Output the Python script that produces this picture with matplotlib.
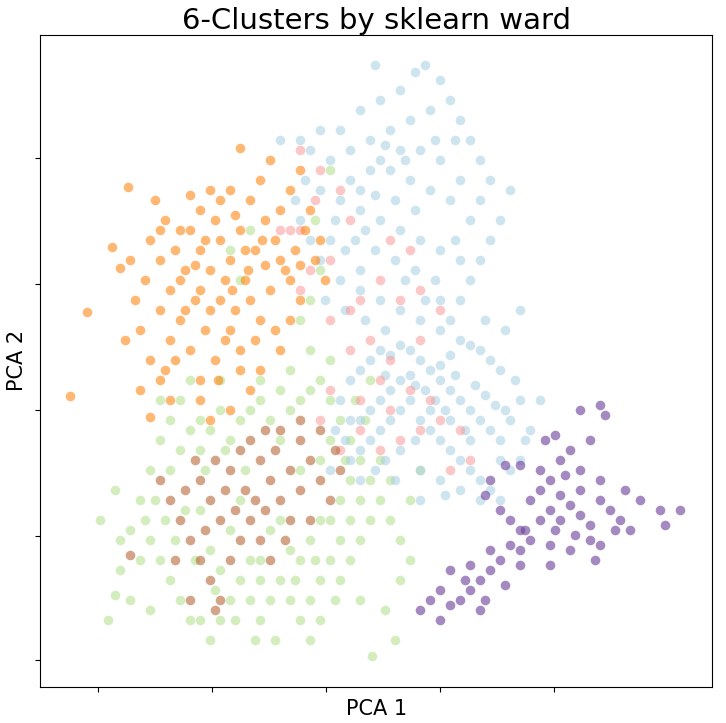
import numpy as np
import matplotlib
matplotlib.use("Agg")
import matplotlib.pyplot as plt

# points (arbitrary PCA units, no tick labels shown)
orange = [(70,396),(87,312),(128,187),(112,247),(120,268),(135,300),(140,330),(150,360),(160,380),(170,400),(150,417),(180,230),(190,195),(200,210),(210,190),(220,200),(240,148),(270,160),(290,190),(300,170),(310,210),(320,240),(325,280),(300,300),(290,320),(280,350),(260,370),(250,390),(230,410),(210,420),(200,380),(190,350),(180,320),(170,290),(160,260),(150,240),(165,220),(175,250),(185,270),(195,300),(205,330),(215,360),(225,340),(235,310),(245,280),(255,250),(265,220),(275,240),(285,270),(295,250),(230,260),(220,240),(240,230),(210,270),(200,250),(250,300),(260,320),(270,290),(220,300),(230,330),(240,350),(210,310),(190,230),(180,280),(170,340),(160,310),(145,280),(130,260),(155,200),(230,190),(250,200),(260,180),(280,210),(305,230),(315,260),(200,290),(215,220),(235,215),(245,250),(265,265),(225,280),(205,240),(195,265),(185,310),(175,360),(165,370),(240,370),(255,340),(275,330),(290,280),(160,230),(125,340),(140,390),(200,400),(218,380),(232,290),(248,270),(262,240),(280,260),(300,265)]
brown = [(160,480),(170,500),(180,520),(190,540),(200,560),(210,580),(220,600),(230,470),(240,450),(250,440),(260,460),(270,480),(280,500),(290,520),(300,440),(310,460),(320,480),(330,500),(250,520),(240,540),(230,560),(220,520),(210,500),(200,480),(195,460),(260,540),(270,560),(280,430),(290,470),(300,490),(245,490),(235,510),(255,500),(265,510),(275,450),(215,460),(225,490),(205,530),(185,490),(175,560),(130,555),(190,600),(215,610),(285,540),(310,520),(335,450),(300,420),(265,430),(340,470),(320,430)]
green = [(100,520),(108,620),(115,595),(120,570),(130,530),(140,500),(150,470),(160,440),(170,420),(180,400),(190,380),(200,450),(210,430),(220,410),(230,440),(240,420),(250,410),(260,400),(270,420),(280,440),(290,410),(300,400),(310,390),(320,380),(330,400),(340,420),(350,440),(360,460),(370,480),(380,500),(390,520),(400,540),(410,500),(420,470),(350,520),(340,540),(330,560),(320,580),(310,600),(300,620),(290,600),(280,580),(270,600),(260,620),(250,600),(240,580),(230,600),(220,620),(210,640),(200,620),(190,620),(180,600),(170,580),(160,560),(150,540),(140,560),(130,600),(150,610),(170,470),(180,450),(190,430),(200,510),(210,550),(220,570),(230,530),(240,500),(250,560),(260,580),(270,530),(280,520),(290,550),(300,560),(310,540),(320,520),(330,520),(340,500),(350,480),(360,500),(370,520),(380,460),(390,480),(360,540),(350,560),(340,580),(385,610),(372,656),(310,640),(260,560),(245,470),(225,450),(205,470),(185,510),(165,520),(155,500),(145,520),(175,540),(195,560),(215,590),(235,620),(255,640),(275,640),(295,580),(315,560),(335,600),(320,620),(360,600),(300,470),(320,460),(330,440),(345,460),(355,400),(365,420),(370,380),(330,360),(310,350),(290,370),(280,390),(260,380),(300,320),(310,300),(320,270),(315,220),(330,170),(230,250),(240,280),(250,230),(220,380),(200,420),(160,400),(120,540),(115,490),(400,580),(410,560),(395,640)]
blue = [(375,65),(415,72),(425,65),(440,80),(400,90),(380,100),(360,110),(340,130),(320,130),(300,140),(280,140),(310,150),(330,160),(350,150),(370,140),(390,130),(410,120),(430,110),(450,100),(460,120),(470,140),(480,160),(490,180),(510,190),(500,220),(490,240),(480,260),(470,280),(460,300),(450,320),(440,330),(420,320),(400,310),(380,300),(360,290),(340,280),(320,260),(310,240),(300,220),(295,200),(305,180),(320,190),(340,200),(360,210),(380,220),(400,230),(420,240),(440,250),(460,260),(450,200),(430,190),(410,180),(390,170),(370,170),(350,180),(335,220),(355,240),(375,250),(395,260),(415,270),(435,280),(455,240),(470,220),(480,200),(460,180),(440,160),(420,150),(400,150),(380,160),(360,190),(345,250),(325,300),(345,310),(365,320),(385,330),(405,280),(425,300),(440,300),(415,210),(395,200),(375,195),(455,140),(435,140),(405,160),(385,145),(365,230),(330,240),(485,320),(505,330),(520,310),(360,270),
        (340,400),(350,380),(360,370),(370,360),(380,350),(390,355),(400,345),(410,350),(420,360),(430,370),(440,380),(450,390),(460,400),(470,410),(480,420),(490,430),(500,440),(510,420),(520,400),(530,430),(540,400),(515,380),(500,370),(490,360),(480,350),(470,345),(460,340),(450,355),(440,365),(425,390),(410,400),(400,410),(390,420),(380,430),(370,440),(360,450),(350,460),(360,420),(370,410),(380,400),(390,390),(400,380),(410,375),(420,420),(430,430),(440,440),(450,450),(460,460),(470,470),(480,480),(490,490),(500,460),(470,440),(450,420),(430,410),(415,440),(400,450),(385,460),(375,470),(395,480),(420,470),(440,480),(460,490),(480,500),(500,500),(520,460),(510,470),(350,420),(345,440),(335,430),(330,470),(360,480),(420,500),(445,495),(465,430),(485,395),(455,375),(505,410),(525,440),(385,375),(415,385),(435,400),(445,410),(475,385),(495,405)]
pink = [(300,150),(320,170),(340,190),(350,220),(330,260),(310,270),(290,230),(300,290),(330,320),(360,300),(380,280),(400,300),(420,290),(440,310),(410,250),(390,240),(350,350),(380,380),(410,390),(430,400),(440,420),(420,430),(400,440),(380,450),(360,430),(340,450),(320,420),(330,390),(360,400),(390,410),(460,430),(470,460),(450,470),(300,230),(280,230),(315,200),(370,340),(350,310),(420,340),(390,360)]
purple = [(600,405),(605,415),(555,435),(545,440),(580,410),(590,440),(570,450),(560,460),(540,470),(520,465),(505,465),(490,480),(485,495),(500,510),(510,520),(520,530),(530,500),(540,490),(550,480),(560,495),(570,505),(580,515),(590,525),(600,500),(610,510),(620,520),(630,530),(625,490),(600,480),(580,470),(565,475),(550,510),(540,520),(530,540),(520,550),(510,545),(500,560),(490,570),(480,580),(470,590),(460,600),(450,605),(440,590),(430,600),(420,610),(450,570),(470,565),(490,550),(550,545),(570,550),(590,540),(600,545),(640,500),(660,510),(680,510),(665,525),(615,530),(595,560),(550,565),(520,565),(525,530),(555,530),(575,535),(505,585),(485,600),(480,610),(440,620),(465,580),(580,490),(560,520)]

clusters = [(green, "#b2df8a", 0.55), (blue, "#a6cee3", 0.55), (pink, "#fb9a99", 0.55),
            (orange, "#ff7f00", 0.55), (brown, "#b15928", 0.55), (purple, "#6a3d9a", 0.6)]

fig = plt.figure(figsize=(7.26, 7.23), dpi=100)
ax = fig.add_axes([0.055, 0.05, 0.926, 0.902])
for pts, c, a in clusters:
    p = np.array(pts, dtype=float)
    ax.scatter(p[:, 0], 723 - p[:, 1], s=48, c=c, alpha=a, linewidths=0)

ax.set_xlim(40, 712)
ax.set_ylim(36, 688)
ax.set_xticks([98, 212, 326, 440, 554])
ax.set_yticks([723 - v for v in [660, 536, 410, 284, 158]])
ax.set_xticklabels([])
ax.set_yticklabels([])
ax.set_xlabel("PCA 1", fontsize=15, labelpad=2)
ax.set_ylabel("PCA 2", fontsize=15, labelpad=2)
ax.set_title("6-Clusters by sklearn ward", fontsize=21, pad=4)
fig.savefig("out.png", dpi=100)
